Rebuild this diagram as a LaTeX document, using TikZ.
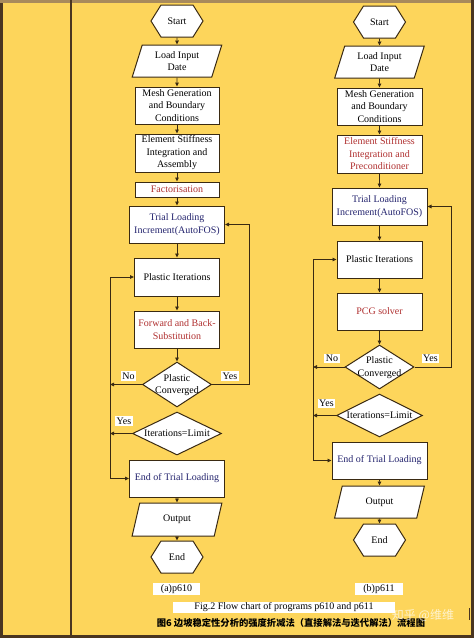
\documentclass[tikz,border=0pt]{standalone}
\usepackage{fontspec}
\setmainfont{Liberation Serif}
\newfontfamily\cjk{Noto Sans CJK SC}
\usetikzlibrary{shapes.geometric,shapes.symbols,arrows.meta}
\definecolor{bgY}{HTML}{FDD55B}
\definecolor{brd}{HTML}{4A3520}
\definecolor{topb}{HTML}{A88A5C}
\definecolor{ln}{HTML}{3A2A12}
\definecolor{navy}{HTML}{24246E}
\definecolor{rd}{HTML}{B03030}
\begin{document}
\begin{tikzpicture}[x=1pt,y=-1pt,
 every node/.style={font=\fontsize{10}{12.5}\selectfont, align=center, inner sep=1pt},
 box/.style={draw=ln, line width=1pt, fill=white, rectangle},
 hexa/.style={draw=ln, line width=1pt, fill=white, shape=signal, signal to=east and west, signal pointer angle=116, minimum width=52, minimum height=32, inner sep=0pt},
 para/.style={draw=ln, line width=1pt, fill=white, trapezium, trapezium left angle=72, trapezium right angle=108, trapezium stretches=true, minimum width=90, minimum height=32, inner sep=0pt},
 dia/.style={draw=ln, line width=1pt, fill=white, diamond, inner sep=0pt},
 arr/.style={draw=ln, line width=0.9pt, -{Triangle[length=4pt,width=3.6pt]}},
 lab/.style={fill=white, inner sep=1.5pt},
]
% background and frame
\fill[bgY] (0,0) rectangle (474,638);
\useasboundingbox (0,0) rectangle (474,638);
\fill[brd] (0,0) rectangle (2.5,638);
\fill[topb] (0,0) rectangle (474,2.5);
\fill[brd] (471,0) rectangle (474,638);
\fill[brd] (0,635) rectangle (474,638);
\fill[brd] (70,0) rectangle (72,638);
\fill[brd] (468.5,608) rectangle (469.8,620);

% ---------- left chart ----------
\node[hexa] (s1) at (177,21) {Start};
\node[para] (l1) at (177,61) {Load Input\\Date};
\node[box, minimum width=84, minimum height=37] (m1) at (177,105.5) {Mesh Generation\\and Boundary\\Conditions};
\node[box, minimum width=84, minimum height=38] (e1) at (177,153) {Element Stiffness\\Integration and\\Assembly};
\node[box, minimum width=84, minimum height=15, text=rd] (f1) at (177,189.5) {Factorisation};
\node[box, minimum width=95, minimum height=37, text=navy] (t1) at (177,224.5) {Trial Loading\\Increment(AutoFOS)};
\node[box, minimum width=85, minimum height=38] (p1) at (177,277) {Plastic Iterations};
\node[box, minimum width=85, minimum height=37, text=rd] (fb1) at (177,329.5) {Forward and Back-\\Substitution};
\node[dia, minimum width=69, minimum height=45] (c1) at (177,384.5) {};
\node (c1t) at (177,385) {Plastic\\Converged};
\node[dia, minimum width=89, minimum height=43] (i1) at (177,433.5) {};
\node (i1t) at (177,433.5) {Iterations=Limit};
\node[box, minimum width=95, minimum height=37, text=navy] (en1) at (177,478.5) {End of Trial Loading};
\node[para, minimum height=33] (o1) at (177,519.5) {Output};
\node[hexa] (x1) at (177,557) {End};

\node[lab] (no1) at (128.5,376) {No};
\node[lab] (yes1) at (230,376) {Yes};
\node[lab] (yes1b) at (124,421) {Yes};

% ---------- right chart ----------
\node[hexa] (s2) at (379.5,22) {Start};
\node[para] (l2) at (379.5,62) {Load Input\\Date};
\node[box, minimum width=85, minimum height=37] (m2) at (379.5,106.5) {Mesh Generation\\and Boundary\\Conditions};
\node[box, minimum width=85, minimum height=38, text=rd] (e2) at (379.5,154) {Element Stiffness\\Integration and\\Preconditioner};
\node[box, minimum width=95, minimum height=37, text=navy] (t2) at (379.5,206.5) {Trial Loading\\Increment(AutoFOS)};
\node[box, minimum width=85, minimum height=37] (p2) at (379.5,259.5) {Plastic Iterations};
\node[box, minimum width=85, minimum height=37, text=rd] (pcg) at (379.5,311.5) {PCG solver};
\node[dia, minimum width=69, minimum height=44] (c2) at (379.5,367) {};
\node (c2t) at (379.5,367.5) {Plastic\\Converged};
\node[dia, minimum width=86, minimum height=43] (i2) at (379.5,415.5) {};
\node (i2t) at (379.5,415.5) {Iterations=Limit};
\node[box, minimum width=95, minimum height=37, text=navy] (en2) at (379.5,460.5) {End of Trial Loading};
\node[para] (o2) at (379.5,502) {Output};
\node[hexa] (x2) at (379.5,540) {End};

\node[lab] (no2) at (332,358.5) {No};
\node[lab] (yes2) at (430.5,358.5) {Yes};
\node[lab] (yes2b) at (326.5,403.5) {Yes};

% ---------- captions ----------
\node[lab, minimum width=47] (cap1) at (176.5,589) {(a)p610};
\node[lab, minimum width=48] (cap2) at (379,589) {(b)p611};
\node[lab, minimum width=222, inner ysep=0.5pt] (fig) at (284,607.5) {Fig.2 Flow chart of programs p610 and p611};
\node[font=\cjk\bfseries\fontsize{9.3}{11}\selectfont] (zh) at (291,623) {图6 边坡稳定性分析的强度折减法（直接解法与迭代解法）流程图};
\node[text=white, opacity=0.7, font=\cjk\fontsize{12}{14}\selectfont] (wm) at (423,615) {知乎 @维维};

% ---------- connectors ----------
\foreach \a/\b in {s1/l1,l1/m1,m1/e1,e1/f1,f1/t1,t1/p1,p1/fb1,fb1/c1,en1/o1,o1/x1,
                   s2/l2,l2/m2,m2/e2,e2/t2,t2/p2,p2/pcg,pcg/c2,en2/o2,o2/x2}
  \draw[arr] (\a.south) -- (\b.north);

\coordinate (L1) at (110,0);
\coordinate (R1) at (249,0);
\draw[arr] (c1.west) -- (c1.west -| L1);
\draw[arr] (i1.west) -- (i1.west -| L1);
\draw[arr] (en1.west -| L1) -- (p1.west -| L1) -- (p1.west);
\draw[arr] (c1.west -| L1) -- (en1.west -| L1) -- (en1.west);
\draw[arr] (c1.east) -- (c1.east -| R1) -- (t1.east -| R1) -- (t1.east);

\coordinate (L2) at (313,0);
\coordinate (R2) at (451,0);
\draw[arr] (c2.west) -- (c2.west -| L2);
\draw[arr] (i2.west) -- (i2.west -| L2);
\draw[arr] (en2.west -| L2) -- (p2.west -| L2) -- (p2.west);
\draw[arr] (c2.west -| L2) -- (en2.west -| L2) -- (en2.west);
\draw[arr] (c2.east) -- (c2.east -| R2) -- (t2.east -| R2) -- (t2.east);
\end{tikzpicture}
\end{document}
